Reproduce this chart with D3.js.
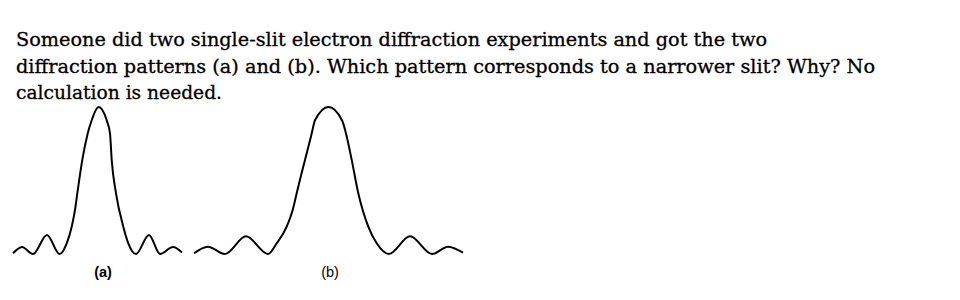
<!DOCTYPE html>
<html>
<head>
<meta charset="utf-8">
<script src="https://cdn.jsdelivr.net/npm/d3@7"></script>
<style>
  body { margin: 0; background: #fff; }
  svg { display: block; }
</style>
</head>
<body>
<svg id="chart"></svg>
<script>
// question text, one entry per line, with the width each line takes in the picture
var questionLines = [
    "Someone did two single-slit electron diffraction experiments and got the two",
    "diffraction patterns (a) and (b). Which pattern corresponds to a narrower slit? Why? No",
    "calculation is needed."
];
var lineWidths = [751, 859, 206];

// pattern labels
var patterns = ["(a)", "(b)"];

// pattern (a): position from the central peak and relative intensity
var posA = [-84.5, -75.5, -64.5, -50.5, -38, -30.8, -25.8, -22.5, -20.2, -17.8, -15.2, -9.8, -5.8, 1,
            9.2, 12.5, 14.2, 18.5, 25.8, 30.8, 38.5, 51.5, 62.5, 75.5, 84.5];
var intA = [0.005, 0.048, 0, 0.13, 0, 0.073, 0.186, 0.30, 0.413, 0.526, 0.64, 0.82, 0.91, 1,
            0.91, 0.82, 0.64, 0.413, 0.186, 0.073, 0, 0.13, 0, 0.048, 0.01];

// pattern (b): wider central peak
var posB = [-134.5, -120.5, -103.5, -82.5, -60.5, -51.8, -41.8, -35.8, -31.8, -27.8, -23.5, -16.8, -13.5, 0,
            13.5, 17.5, 23.2, 29.8, 39.8, 48.2, 60.5, 81.5, 103.5, 119.5, 134.5];
var intB = [0.005, 0.05, 0, 0.12, 0, 0.073, 0.186, 0.30, 0.413, 0.526, 0.64, 0.82, 0.91, 1,
            0.91, 0.82, 0.64, 0.413, 0.186, 0.073, 0, 0.12, 0, 0.05, 0.01];

var screen = {width: 960, height: 300};

var svg = d3.select("#chart")
    .attr("width", screen.width)
    .attr("height", screen.height);

/* the question text */
var text = svg.append("g")
    .attr("font-family", "'DejaVu Serif', serif")
    .attr("font-size", 18.5)
    .attr("fill", "#000")
    .attr("stroke", "#000")
    .attr("stroke-width", 0.3);

text.selectAll("text")
    .data(questionLines)
    .enter()
    .append("text")
    .attr("x", 16)
    .attr("y", function(d, i) { return 46 + i * 26.5; })
    .attr("textLength", function(d, i) { return lineWidths[i]; })
    .attr("lengthAdjust", "spacingAndGlyphs")
    .text(function(d) { return d; });

/* the two diffraction curves */
var centers = d3.scalePoint()
    .domain(patterns)
    .range([97.5, 328.5]);

var xScale = d3.scaleLinear()
    .domain([-1, 1])
    .range([-1, 1]);

var yScale = d3.scaleLinear()
    .domain([0, 1])
    .range([254, 107]);

var series = [
    {label: patterns[0], pos: posA, val: intA, bold: true},
    {label: patterns[1], pos: posB, val: intB, bold: false}
];

var line = d3.line()
    .x(function(d) { return xScale(d[0]); })
    .y(function(d) { return yScale(d[1]); })
    .curve(d3.curveMonotoneX);

var panels = svg.selectAll(".pattern")
    .data(series)
    .enter()
    .append("g")
    .classed("pattern", true)
    .attr("transform", function(d) { return "translate(" + centers(d.label) + ",0)"; });

panels.append("path")
    .attr("d", function(d) { return line(d3.zip(d.pos, d.val)); })
    .attr("fill", "none")
    .attr("stroke", "#000")
    .attr("stroke-width", 2)
    .attr("stroke-linejoin", "round");

panels.append("text")
    .attr("x", function(d, i) { return i == 0 ? 5.5 : 1.5; })
    .attr("y", 277)
    .attr("text-anchor", "middle")
    .attr("font-family", "'Liberation Sans', Arial, sans-serif")
    .attr("font-size", 14.5)
    .attr("font-weight", function(d) { return d.bold ? "bold" : "normal"; })
    .text(function(d) { return d.label; });
</script>
</body>
</html>
